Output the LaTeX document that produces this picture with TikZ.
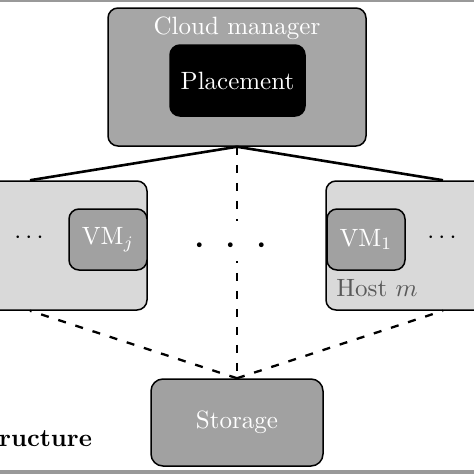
\documentclass[tikz,border=0pt]{standalone}
\usepackage{graphicx}
\newcommand\sbx[1]{\scalebox{2.5}{#1}}
\newcommand\bdot{\scalebox{4.5}{$\cdot$}}
\begin{document}
\begin{tikzpicture}[x=1pt,y=-1pt,
  box/.style={draw=black,line width=1.5pt,rounded corners=10pt,inner sep=0pt},
  link/.style={line width=2.6pt},
  dlink/.style={line width=2.3pt,dash pattern=on 8pt off 10pt}]
\useasboundingbox (0,0) rectangle (474,474);
\clip (0,0) rectangle (474,474);
% frame strips
\fill[black!40] (0,0) rectangle (474,2);
\fill[black!40] (0,470) rectangle (474,474);
% cloud manager
\node[box,fill=black!35,minimum width=258pt,minimum height=138pt] (cloud) at (237,77) {};
\node[text=white,anchor=base,inner sep=0pt] (cloudtitle) at (237,34) {\sbx{Cloud manager}};
\node[box,fill=black,minimum width=135pt,minimum height=71pt,text=white] (place) at (237.5,80.5) {\sbx{Placement}};
% hosts
\node[box,fill=black!15,minimum width=234pt,minimum height=129pt] (hostL) at (30,245.5) {};
\node[box,fill=black!15,minimum width=234pt,minimum height=129pt] (hostR) at (443,245.5) {};
\node[box,fill=black!37,minimum width=78pt,minimum height=61pt,text=white] (vmj) at (108,239.5) {\sbx{VM$_j$}};
\node[box,fill=black!37,minimum width=78pt,minimum height=61pt,text=white] (vm1) at (366,239.5) {\sbx{VM$_1$}};
\node[inner sep=0pt] (ldots) at (29,238) {\sbx{$\cdots$}};
\node[inner sep=0pt] (rdots) at (442,238) {\sbx{$\cdots$}};
\node[text=black!65,anchor=base,inner sep=0pt] (hostlabel) at (377,296) {\sbx{Host $m$}};
% storage
\node[box,fill=black!37,minimum width=172pt,minimum height=87pt,text=white,rounded corners=12pt] (stor) at (237,422.5) {\sbx{Storage}};
% connectors
\draw[link] (cloud.south) -- (hostL.north);
\draw[link] (cloud.south) -- (hostR.north);
\draw[dlink] (stor.north) -- (hostL.south);
\draw[dlink] (stor.north) -- (hostR.south);
\draw[dlink] (cloud.south) -- (stor.north);
% central dots
\node[fill=white,inner xsep=6pt,inner ysep=0pt,text height=35.25pt,text depth=4.75pt] (dots) at (231,241) {\bdot\hspace{18.5pt}\bdot\hspace{18.5pt}\bdot};
% cut-off caption
\node[anchor=base west,inner sep=0pt] (caption) at (-1,446) {\sbx{\bfseries ructure}};
\end{tikzpicture}
\end{document}
